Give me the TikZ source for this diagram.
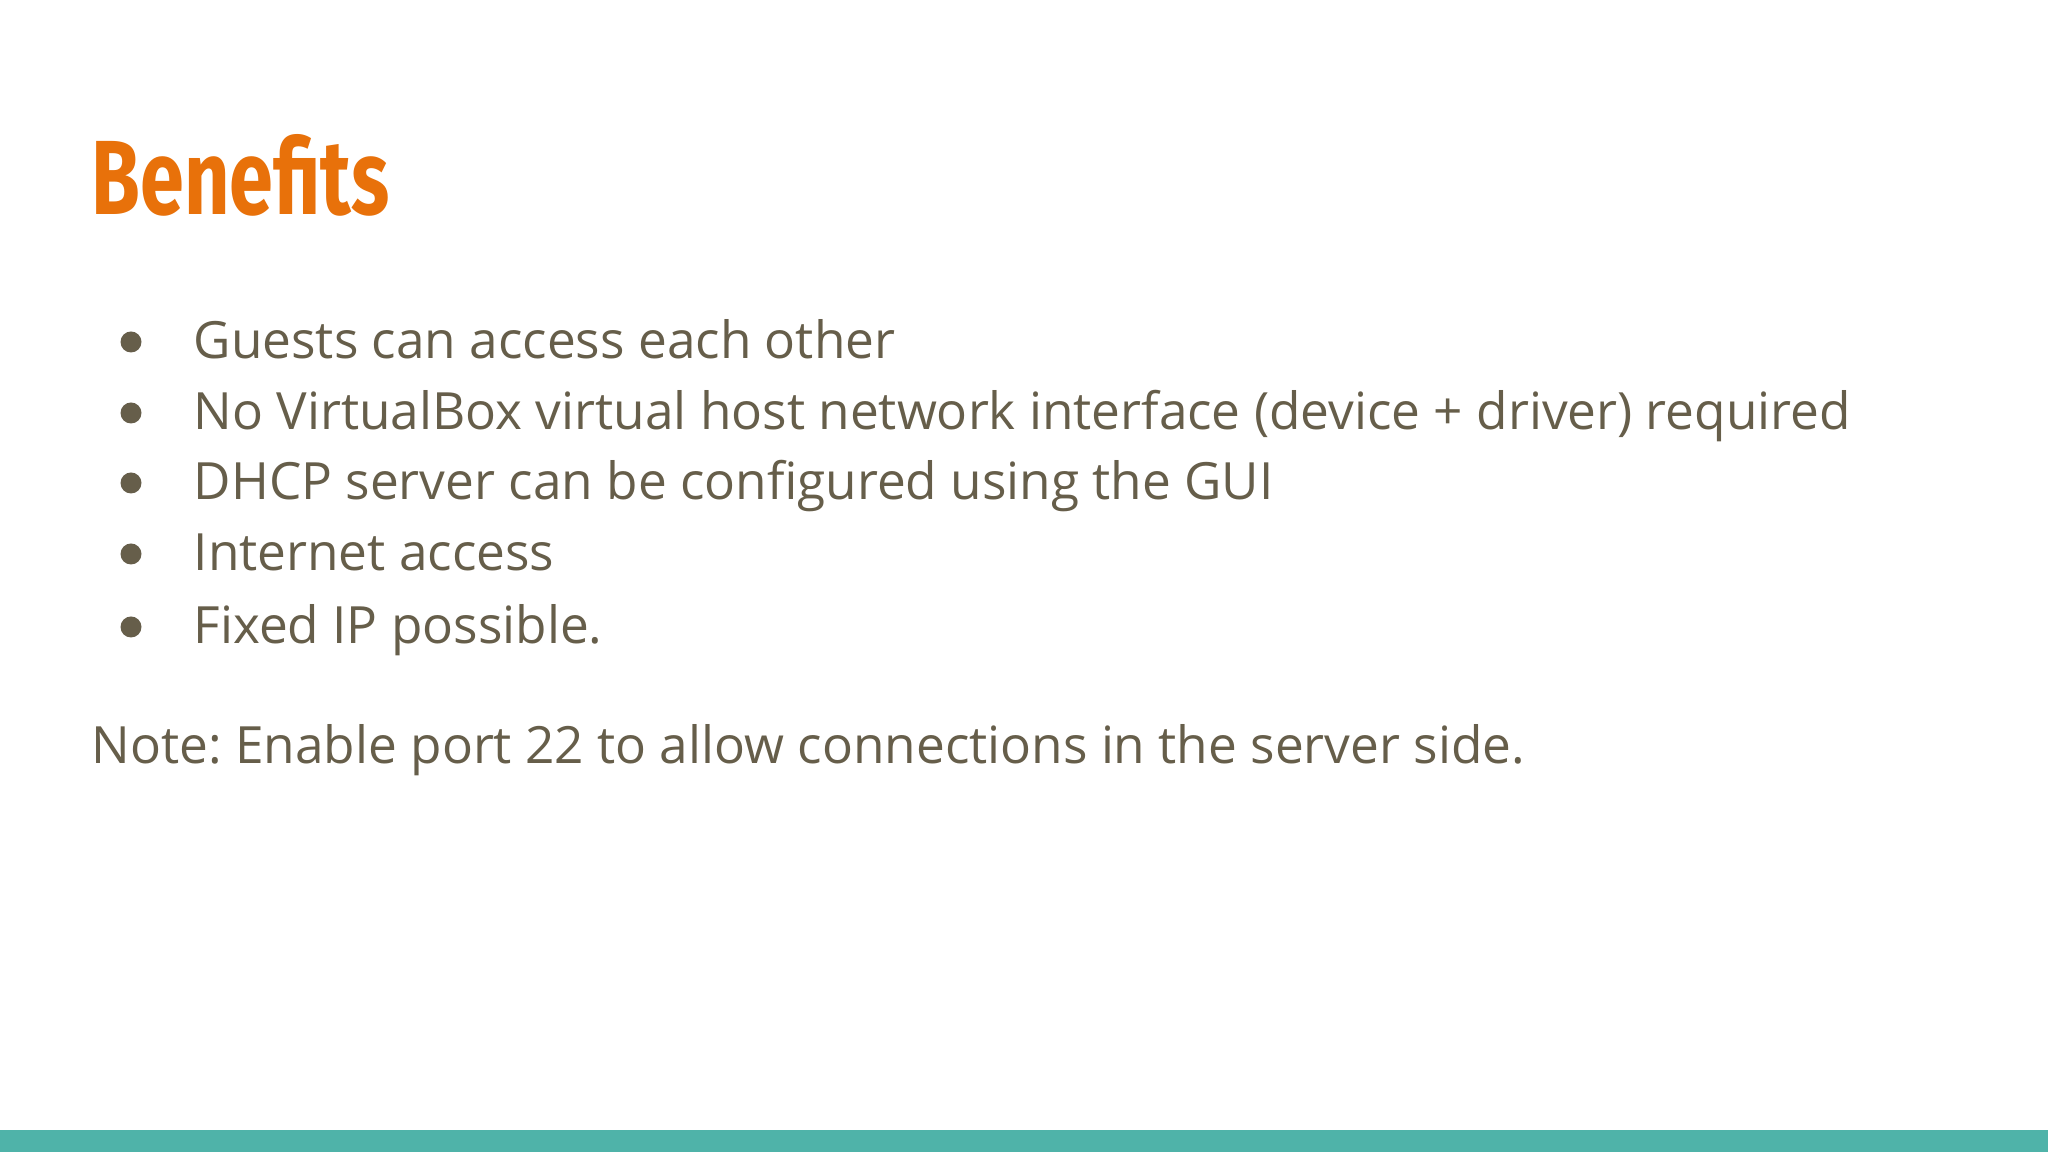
\documentclass[tikz,border=0pt]{standalone}
\usepackage{fontspec}
\setmainfont{Open Sans}
\newfontfamily\titlefont{Fira Sans}
\definecolor{ttl}{HTML}{E8710A}
\definecolor{body}{HTML}{665E4A}
\definecolor{bar}{HTML}{4FB3A9}
\frenchspacing
\begin{document}
\begin{tikzpicture}[x=0.01cm,y=0.01cm,
  txt/.style={anchor=base west,inner sep=0,text=body,font=\fontsize{14.6}{18}\selectfont}]
\useasboundingbox (0,0) rectangle (2048,1152);
\fill[white] (0,0) rectangle (2048,1152);
\fill[bar] (0,0) rectangle (2048,22);
\node[anchor=base west,inner sep=0,text=ttl,font=\titlefont\bfseries\fontsize{30}{34}\selectfont,xscale=0.75] (t) at (91,937) {Benefits};
\foreach \i/\y/\s in {1/793/Guests can access each other,
  2/722/No VirtualBox virtual host network interface (device + driver) required,
  3/652/DHCP server can be configured using the GUI,
  4/581/Internet access,
  5/508/Fixed IP possible.}{
  \node[txt] (l\i) at (193,\y) {\s};
  \fill[body] (131,\y+17) circle (10.5);
}
\node[txt] (note) at (91,388) {Note: Enable port 22 to allow connections in the server side.};
\end{tikzpicture}
\end{document}
